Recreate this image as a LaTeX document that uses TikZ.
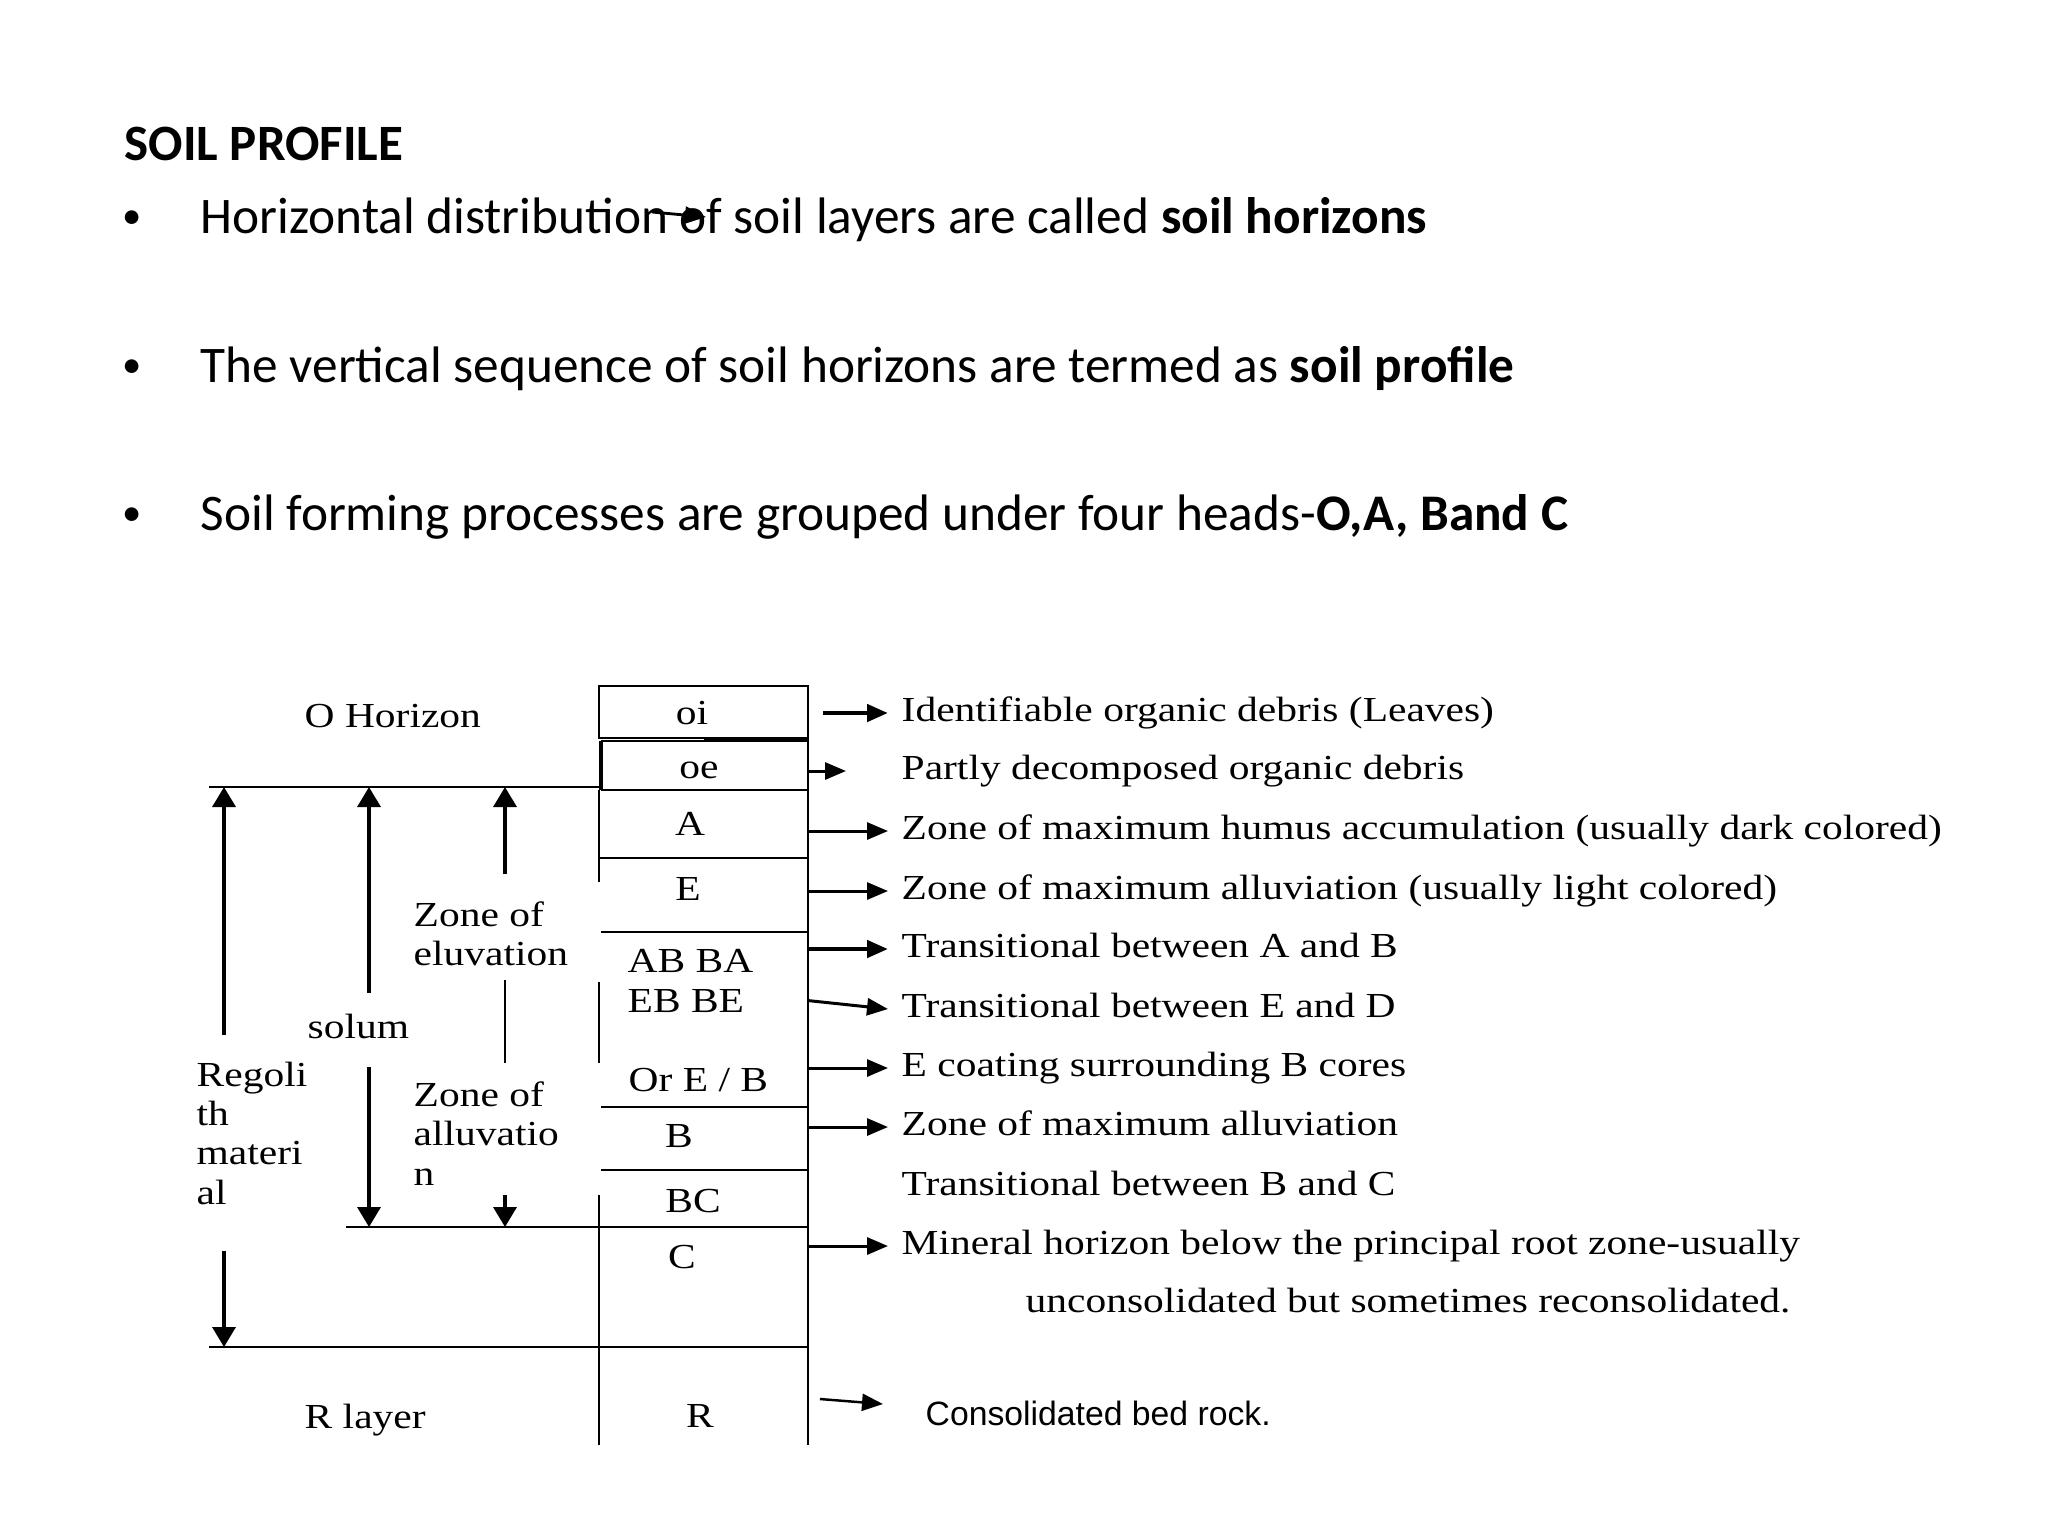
\documentclass[tikz,border=0pt]{standalone}
\usepackage{fontspec}
\setmainfont{Liberation Serif}
\newfontfamily\slidefont{Carlito}
\newfontfamily\diagfont[FakeStretch=1.18]{Liberation Serif}
\newfontfamily\rockfont{Liberation Sans}
\usetikzlibrary{arrows.meta}

\begin{document}
\begin{tikzpicture}[
  x=0.1mm, y=-0.1mm,
  >=Stealth,
  slide/.style={font={\slidefont\fontsize{14.6}{17}\selectfont}, inner sep=0pt, anchor=base west},
  dot/.style={font={\slidefont\fontsize{11}{13}\selectfont}, inner sep=0pt, anchor=base},
  hz/.style={font={\diagfont\fontsize{10}{11.2}\selectfont}, inner sep=0pt, anchor=base},
  lbl/.style={font={\diagfont\fontsize{10}{11.2}\selectfont}, inner sep=0pt, align=left, anchor=north west},
  desc/.style={font={\diagfont\fontsize{10}{12}\selectfont}, anchor=west, inner xsep=1.3mm, inner ysep=0pt, text height=7pt, text depth=2pt},
  rule/.style={line width=0.6pt},
  varr/.style={-{Triangle[length=2mm,width=2.3mm]}, line width=1pt},
  harr/.style={-{Triangle[length=2.1mm,width=1.7mm]}, line width=0.85pt},
  tharr/.style={harr, line width=1.3pt},
]
\useasboundingbox (0,0) rectangle (2048,1536);

% Title and bullets
\node[slide, font={\slidefont\bfseries\fontsize{14.5}{17}\selectfont}] (title) at (124,160) {SOIL PROFILE};
\node[dot] (b1) at (132,228) {•};
\node[slide] (t1) at (200,233) {Horizontal distribution of soil layers are called \textbf{soil horizons}};
\node[dot] (b2) at (132,377) {•};
\node[slide] (t2) at (200,382) {The vertical sequence of soil horizons are termed as \textbf{soil profile}};
\node[dot] (b3) at (132,525) {•};
\node[slide] (t3) at (200,530) {Soil forming processes are grouped under four heads-\textbf{O,A, Band C}};
\coordinate (strayA) at (652,212);
\coordinate (strayB) at (706,217);
\draw[harr, line width=0.8pt] (strayA) -- (strayB);

% Column
\coordinate (colR) at (808,0);
\draw[rule] (599,686) rectangle (808,738);
\draw[line width=1.1pt] (704,739) -- (808,739);
\draw[rule] (601,741) -- (808,741);
\draw[line width=1pt] (601,741) -- (601,790);
\draw[rule] (601,790) -- (808,790);
\draw[rule] (209,787) -- (601,787);
\draw[rule] (599,790) -- (599,882);
\draw[rule] (599,858) -- (808,858);
\draw[rule] (601,932) -- (808,932);
\draw[rule] (599,982) -- (599,1063);
\draw[rule] (601,1107) -- (808,1107);
\draw[rule] (601,1170) -- (808,1170);
\draw[rule] (599,1195) -- (599,1445);
\draw[rule] (346,1227) -- (808,1227);
\draw[rule] (209,1347) -- (808,1347);
\draw[rule] (808,686) -- (808,1445);

% Horizons
\node[hz] (oi) at (692,724) {oi};
\node[hz] (oe) at (699,778) {oe};
\node[hz] (hA) at (690,835) {A};
\node[hz] (hE) at (688,900) {E};
\node[hz, anchor=base west] (hAB) at (627,972) {AB BA};
\node[hz, anchor=base west] (hEB) at (627,1012) {EB BE};
\node[hz, anchor=base west] (hOr) at (628,1091) {Or E / B};
\node[hz] (hB) at (679,1147) {B};
\node[hz] (hBC) at (693,1212) {BC};
\node[hz] (hC) at (682,1268) {C};
\node[hz] (hR) at (700,1427) {R};

% Left labels
\node[hz, anchor=base west] (oHor) at (304,727) {O Horizon};
\node[lbl] (eluv) at (413,901) {Zone of\\eluvation};
\node[hz, anchor=base west] (solum) at (307,1038) {solum};
\node[lbl] (regol) at (196,1061) {Regoli\\th\\materi\\al};
\node[lbl] (alluv) at (413,1081) {Zone of\\alluvatio\\n};
\node[hz, anchor=base west] (rLay) at (304,1428) {R layer};

% Depth arrows
\coordinate (regUp) at (224,1035);
\coordinate (regTop) at (224,787);
\coordinate (regDn) at (224,1251);
\coordinate (regBot) at (224,1347);
\coordinate (solUp) at (369,993);
\coordinate (solTop) at (369,787);
\coordinate (solDn) at (369,1067);
\coordinate (solBot) at (369,1227);
\coordinate (zonUp) at (505,874);
\coordinate (zonTop) at (505,787);
\coordinate (zonMidA) at (505,980);
\coordinate (zonMidB) at (505,1063);
\coordinate (zonDn) at (505,1195);
\coordinate (zonBot) at (505,1227);
\draw[varr] (regUp) -- (regTop);
\draw[varr] (regDn) -- (regBot);
\draw[varr] (solUp) -- (solTop);
\draw[varr] (solDn) -- (solBot);
\draw[varr] (zonUp) -- (zonTop);
\draw[rule] (zonMidA) -- (zonMidB);
\draw[varr] (zonDn) -- (zonBot);

% Descriptions
\node[desc] (dOi) at (888,713) {Identifiable organic debris (Leaves)};
\node[desc] (dOe) at (888,771) {Partly decomposed organic debris};
\node[desc] (dA) at (888,831) {Zone of maximum humus accumulation (usually dark colored)};
\node[desc] (dE) at (888,891) {Zone of maximum alluviation (usually light colored)};
\node[desc] (dAB) at (888,949) {Transitional between A and B};
\node[desc] (dEB) at (888,1009) {Transitional between E and D};
\node[desc] (dOrEB) at (888,1068) {E coating surrounding B cores};
\node[desc] (dB) at (888,1127) {Zone of maximum alluviation};
\node[desc] (dBC) at (888,1187) {Transitional between B and C};
\node[desc] (dC) at (888,1246) {Mineral horizon below the principal root zone-usually};
\node[desc] (dC2) at (1012,1304) {unconsolidated but sometimes reconsolidated.};
\node[desc, font={\rockfont\fontsize{9.6}{12}\selectfont}] (dR) at (912,1417) {Consolidated bed rock.};

% Arrows
\coordinate (rockTail) at (820,1399);
\coordinate (rockTip) at (883,1404);
\draw[tharr] ([xshift=-6.5mm]dOi.west) -- (dOi.west);
\draw[harr] (colR |- dOe.west) -- ++(38,0);
\draw[harr] (colR |- dA.west) -- (dA.west);
\draw[harr] (colR |- dE.west) -- (dE.west);
\draw[tharr] (colR |- dAB.west) -- (dAB.west);
\draw[harr] (colR |- hEB) -- (dEB.west);
\draw[harr] (colR |- dOrEB.west) -- (dOrEB.west);
\draw[harr] (colR |- dB.west) -- (dB.west);
\draw[harr] (colR |- dC.west) -- (dC.west);
\draw[harr, line width=0.7pt] (rockTail) -- (rockTip);
\end{tikzpicture}
\end{document}
